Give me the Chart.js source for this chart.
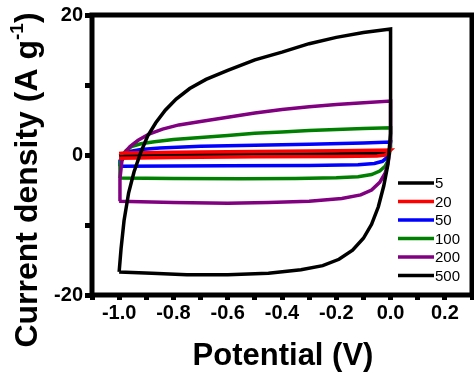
<!DOCTYPE html>
<html>
<head>
<meta charset="utf-8">
<script src="https://cdn.jsdelivr.net/npm/chart.js@4"></script>
<style>
  html, body { margin: 0; padding: 0; background: #fff; }
  canvas { display: block; }
</style>
</head>
<body>
<canvas id="cv" width="474" height="374"></canvas>
<script>
/* ========================================
   DATA
======================================== */

const scanRates = ["5", "20", "50", "100", "200", "500"];
const lineColors = ["#000000", "#ff0000", "#0000ff", "#008000", "#800080", "#000000"];

const potential5 = [-1.0, -0.98, -0.50, 0.0, -0.03, -0.50, -1.0];
const current5   = [-0.1, 0.05, 0.12, 0.2, 0.05, 0.05, -0.1];

const potential20 = [-1.0, -0.98, -0.80, -0.50, -0.20, 0.0, -0.02, -0.05, -0.20, -0.50, -0.80, -1.0];
const current20   = [0.2, 0.3, 0.4, 0.5, 0.6, 0.7, 0.0, -0.15, -0.2, -0.25, -0.35, -0.45];

const potential50 = [-1.0, -0.997, -0.985, -0.96, -0.92, -0.85, -0.70, -0.50, -0.30, -0.10, 0.0,
                     -0.005, -0.015, -0.03, -0.06, -0.12, -0.30, -0.60, -1.0];
const current50   = [-1.6, -0.8, 0.0, 0.5, 0.8, 1.0, 1.25, 1.4, 1.55, 1.7, 1.85,
                     0.4, -0.4, -0.9, -1.2, -1.4, -1.5, -1.55, -1.6];

const potential100 = [-1.0, -0.997, -0.99, -0.975, -0.955, -0.92, -0.87, -0.80, -0.70, -0.60, -0.50,
                      -0.40, -0.30, -0.20, -0.10, 0.0, 0.0, -0.008, -0.02, -0.04, -0.07, -0.12,
                      -0.20, -0.35, -0.55, -0.80, -1.0];
const current100   = [-3.3, -1.5, -0.2, 0.6, 1.2, 1.6, 1.9, 2.2, 2.5, 2.8, 3.1,
                      3.3, 3.5, 3.65, 3.8, 3.9, 1.1, -0.7, -1.6, -2.3, -2.8, -3.1,
                      -3.25, -3.35, -3.4, -3.35, -3.3];

const potential200 = [-1.0, -0.997, -0.99, -0.978, -0.96, -0.93, -0.89, -0.84, -0.78, -0.70, -0.60,
                      -0.50, -0.40, -0.30, -0.20, -0.10, 0.0, 0.0, -0.008, -0.02, -0.04, -0.07,
                      -0.11, -0.18, -0.30, -0.45, -0.60, -0.80, -1.0];
const current200   = [-6.6, -3.4, -0.9, 0.4, 1.2, 2.1, 3.0, 3.7, 4.3, 4.8, 5.4,
                      6.0, 6.5, 6.9, 7.2, 7.45, 7.7, 2.1, -0.9, -2.6, -3.9, -5.0,
                      -5.7, -6.2, -6.6, -6.8, -6.9, -6.8, -6.6];

const potential500 = [-1.0, -0.993, -0.982, -0.965, -0.945, -0.92, -0.895, -0.865, -0.83, -0.79, -0.74,
                      -0.68, -0.60, -0.50, -0.40, -0.30, -0.20, -0.10, 0.0, 0.0, -0.01, -0.025,
                      -0.045, -0.07, -0.10, -0.14, -0.19, -0.25, -0.33, -0.45, -0.60, -0.75, -0.88, -1.0];
const current500   = [-16.7, -13.4, -9.4, -5.4, -2.4, 0.4, 2.7, 4.6, 6.4, 8.0, 9.5,
                      10.8, 12.1, 13.6, 14.7, 15.9, 16.8, 17.5, 18.0, 3.1, -1.4, -4.4,
                      -7.4, -9.9, -11.9, -13.6, -14.9, -15.8, -16.4, -16.9, -17.1, -17.1, -16.9, -16.7];

const xTickValues = [-1.1, -1.0, -0.9, -0.8, -0.7, -0.6, -0.5, -0.4, -0.3, -0.2, -0.1, 0.0, 0.1, 0.2, 0.3];
const xTickLabels = ["", "-1.0", "", "-0.8", "", "-0.6", "", "-0.4", "", "-0.2", "", "0.0", "", "0.2", ""];
const yTickValues = [-20, -10, 0, 10, 20];
const yTickLabels = ["-20", "", "0", "", "20"];

const xTitle = "Potential (V)";
const yTitle = "Current density (A g";
const yTitleSup = "-1";

/* ========================================
   BUILD DATASETS
======================================== */

const allPotential = [potential5, potential20, potential50, potential100, potential200, potential500];
const allCurrent = [current5, current20, current50, current100, current200, current500];
// lower order = drawn later (on top): 500 first, then the red loop over the 5 line
const drawOrder = [2, 1, 5, 4, 3, 0];

const FONT = '"Liberation Sans", Arial, sans-serif';

const datasets = scanRates.map((rate, i) => ({
  label: rate,
  data: allPotential[i].map((x, k) => ({ x: x, y: allCurrent[i][k] })),
  borderColor: lineColors[i],
  backgroundColor: lineColors[i],
  borderWidth: 3.5,
  showLine: true,
  pointRadius: 0,
  tension: 0,
  fill: false,
  order: drawOrder[i]
}));

/* ========================================
   PLUGINS: frame, titles, legend
======================================== */

const framePlugin = {
  id: "frame",
  afterDatasetsDraw(chart) {
    const { ctx, chartArea: a } = chart;
    ctx.save();
    ctx.strokeStyle = "#000";
    ctx.lineWidth = 5;
    ctx.strokeRect(a.left, a.top, a.right - a.left, a.bottom - a.top);
    ctx.restore();
  }
};

const titlePlugin = {
  id: "titles",
  afterDraw(chart) {
    const ctx = chart.ctx;
    ctx.save();
    ctx.fillStyle = "#000";
    ctx.textBaseline = "alphabetic";

    // x title
    ctx.font = "bold 31px " + FONT;
    ctx.textAlign = "center";
    ctx.fillText(xTitle, 283, 365);

    // y title, rotated, with superscript
    ctx.translate(37, 180);
    ctx.rotate(-Math.PI / 2);
    ctx.textAlign = "left";
    ctx.font = "bold 32px " + FONT;
    const w1 = ctx.measureText(yTitle).width;
    const w3 = ctx.measureText(")").width;
    ctx.font = "bold 19px " + FONT;
    const w2 = ctx.measureText(yTitleSup).width;
    let x0 = -(w1 + w2 + w3) / 2;
    ctx.font = "bold 32px " + FONT;
    ctx.fillText(yTitle, x0, 0);
    ctx.font = "bold 19px " + FONT;
    ctx.fillText(yTitleSup, x0 + w1, -14);
    ctx.font = "bold 32px " + FONT;
    ctx.fillText(")", x0 + w1 + w2, 0);
    ctx.restore();
  }
};

const legendPlugin = {
  id: "cvLegend",
  afterDraw(chart) {
    const ctx = chart.ctx;
    ctx.save();
    ctx.font = "15px " + FONT;
    ctx.textAlign = "left";
    ctx.textBaseline = "middle";
    chart.data.datasets.forEach((ds, i) => {
      const y = 183 + i * 18.5;
      ctx.strokeStyle = ds.borderColor;
      ctx.lineWidth = 3.5;
      ctx.beginPath();
      ctx.moveTo(398, y);
      ctx.lineTo(434, y);
      ctx.stroke();
      ctx.fillStyle = "#000";
      ctx.fillText(ds.label, 435, y + 1);
    });
    ctx.restore();
  }
};

/* ========================================
   CHART
======================================== */

new Chart(document.getElementById("cv"), {
  type: "scatter",
  data: { datasets: datasets },
  options: {
    responsive: false,
    animation: false,
    devicePixelRatio: 1,
    layout: { padding: { left: 0, right: 2, top: 15, bottom: 0 } },
    plugins: {
      legend: { display: false },
      tooltip: { enabled: false }
    },
    scales: {
      x: {
        type: "linear",
        min: -1.1,
        max: 0.3,
        afterBuildTicks: s => { s.ticks = xTickValues.map(v => ({ value: v })); },
        afterFit: s => { s.height = 79; },
        border: { display: false },
        grid: {
          display: true,
          drawOnChartArea: false,
          drawTicks: true,
          tickLength: 5,
          tickWidth: 5,
          tickColor: "#000"
        },
        ticks: {
          autoSkip: false,
          maxRotation: 0,
          padding: 1,
          color: "#000",
          font: { family: FONT, size: 20, weight: "bold" },
          callback: (v, i) => xTickLabels[i]
        }
      },
      y: {
        type: "linear",
        min: -20,
        max: 20,
        afterBuildTicks: s => { s.ticks = yTickValues.map(v => ({ value: v })); },
        afterFit: s => { s.width = 92; },
        border: { display: false },
        grid: {
          display: true,
          drawOnChartArea: false,
          drawTicks: true,
          tickLength: 7,
          tickWidth: 5,
          tickColor: "#000"
        },
        ticks: {
          autoSkip: false,
          padding: 2,
          color: "#000",
          font: { family: FONT, size: 20, weight: "bold" },
          callback: (v, i) => yTickLabels[i]
        }
      }
    }
  },
  plugins: [framePlugin, titlePlugin, legendPlugin]
});
</script>
</body>
</html>
